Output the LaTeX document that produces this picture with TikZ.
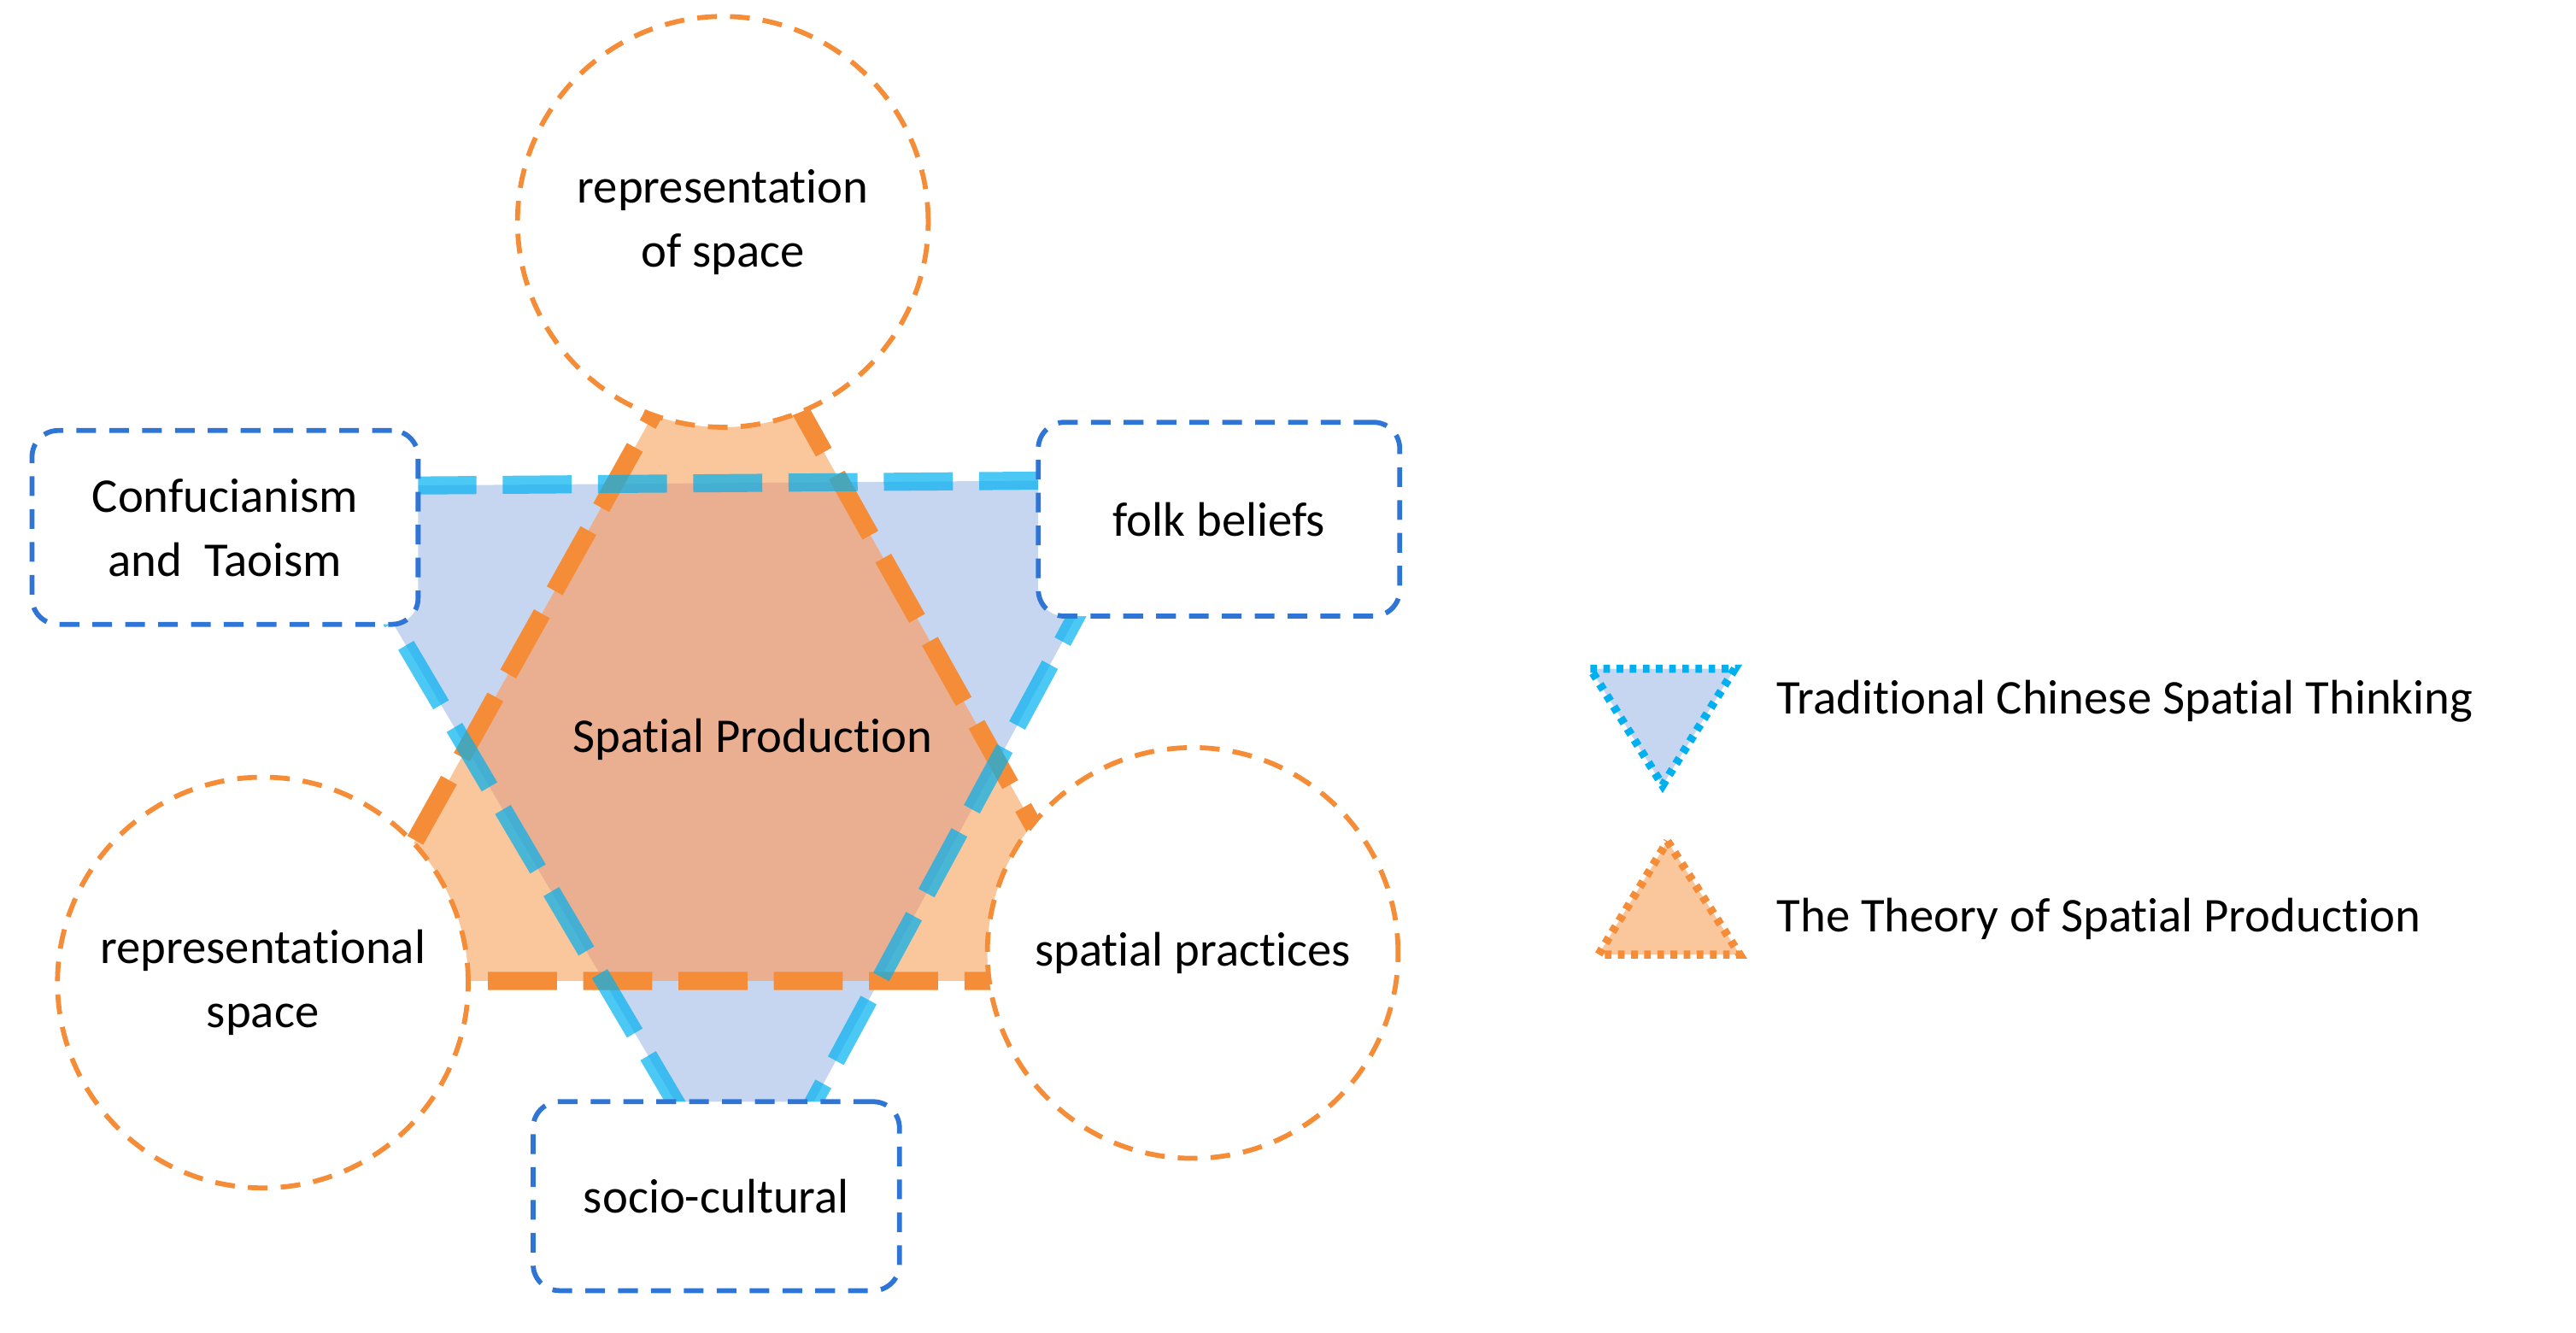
\documentclass[tikz,border=0pt]{standalone}
\usepackage{fontspec}
\setmainfont{Carlito}[Ligatures=NoCommon]
\begin{document}
\begin{tikzpicture}[x=1pt,y=-1pt,
  circ/.style={circle,draw=orange1,dash pattern=on 12pt off 8pt,line width=3pt,fill=white,minimum size=250pt,align=center,inner sep=0},
  box/.style={draw=blue2,rounded corners=16pt,dash pattern=on 12pt off 8pt,line width=3pt,fill=white,align=center},
  txt/.style={font=\fontsize{29.5}{39}\selectfont,align=center},
  bedge/.style={line width=11pt,draw=cyan1,dash pattern=on 42pt off 16pt,opacity=0.7},
  oedge/.style={line width=11pt,draw=orange1,dash pattern=on 42pt off 16pt}]
\definecolor{orange1}{RGB}{245,140,55}
\definecolor{cyan1}{RGB}{0,176,240}
\definecolor{blue2}{RGB}{46,117,214}
\definecolor{bfill}{RGB}{198,214,240}
\definecolor{ofill}{RGB}{250,198,155}
\definecolor{mfill}{RGB}{234,174,145}
\useasboundingbox (0,0) rectangle (1568,811);
\coordinate (b1) at (190,296); \coordinate (b2) at (700,292); \coordinate (b3) at (455,745);
\coordinate (o1) at (443,171); \coordinate (o2) at (205,597); \coordinate (o3) at (682,597);
\fill[bfill] (b1)--(b2)--(b3)--cycle;
\fill[ofill] (o1)--(o2)--(o3)--cycle;
\begin{scope}
\clip (b1)--(b2)--(b3)--cycle;
\fill[mfill] (o1)--(o2)--(o3)--cycle;
\end{scope}
\draw[oedge] (o1)--(o2)--(o3)--cycle;
\draw[bedge] (b1)--(b2)--(b3)--cycle;
\node[circ,txt] (rs) at (440,135) {representation\\of space};
\node[circ,txt] (rl) at (160,598) {representational\\space};
\node[circ,txt] (sp) at (726,580) {spatial practices};
\node[box,txt,minimum width=235pt,minimum height=118pt] (ct) at (137,321) {Confucianism\\and~ Taoism};
\node[box,txt,minimum width=220pt,minimum height=118pt] (fb) at (742,316) {folk beliefs};
\node[box,txt,minimum width=223pt,minimum height=115pt] (sc) at (436,728) {socio-cultural};
\node[txt] (c) at (458,450) {Spatial Production};
\draw[fill=bfill,draw=cyan1,line width=5pt,dash pattern=on 4pt off 4pt] (968,407) coordinate (l1) -- (1056,407) -- (1012,478) -- cycle;
\draw[fill=ofill,draw=orange1,line width=5pt,dash pattern=on 4pt off 4pt] (1015,512) coordinate (l2) -- (1059,581) -- (973,581) -- cycle;
\node[txt,anchor=west] (t1) at (1078,427) {Traditional Chinese Spatial Thinking};
\node[txt,anchor=west] (t2) at (1078,559) {The Theory of Spatial Production};
\end{tikzpicture}
\end{document}
